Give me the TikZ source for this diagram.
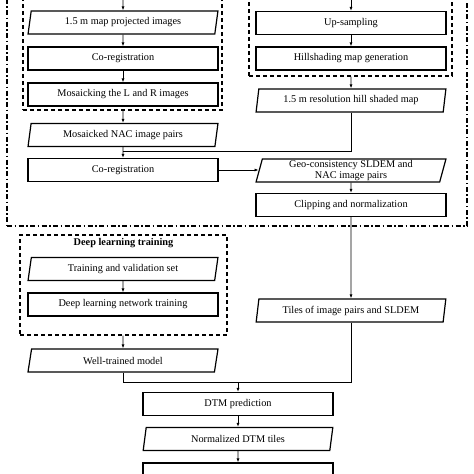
\documentclass[tikz,border=0pt]{standalone}
\usepackage{fontspec}
\setmainfont{Liberation Serif}
\usetikzlibrary{shapes.geometric,arrows.meta}
\begin{document}
\begin{tikzpicture}[x=1pt,y=-1pt,
  every node/.style={font=\fontsize{10.3}{11.2}\selectfont, inner sep=0pt},
  procbox/.style={draw, line width=1.2pt, rectangle, minimum width=190pt, minimum height=23pt},
  iobox/.style={draw, line width=1.2pt, trapezium, trapezium left angle=78, trapezium right angle=102,
    trapezium stretches=true, minimum width=190pt, minimum height=23pt, align=center},
  dashbox/.style={draw, line width=1.3pt, dash pattern=on 4pt off 3pt, rectangle},
  dashdotbox/.style={draw, line width=1.3pt, dash pattern=on 5pt off 2.5pt on 1.5pt off 2.5pt, rectangle},
  conn/.style={line width=0.8pt},
  arr/.style={conn, -{Latex[length=4pt,width=3pt]}}
]
\useasboundingbox (0,0) rectangle (474,474);
\clip (0,0) rectangle (474,474);
\fill[white] (0,0) rectangle (474,474);

% group boxes
\node[dashdotbox, minimum width=460pt, minimum height=246pt] (outer) at (237,103) {};
\node[dashbox, minimum width=199pt, minimum height=120pt] (lbox) at (122.5,50) {};
\node[dashbox, minimum width=203pt, minimum height=86pt] (rbox) at (350.5,33) {};
\node[dashbox, minimum width=207pt, minimum height=100pt] (dbox) at (123.5,285) {};
\node[font=\fontsize{10.3}{11.2}\selectfont\bfseries] (dtitle) at (123.5,243) {Deep learning training};

% left column
\node[iobox] (p1) at (123,22.5) {1.5 m map projected images};
\node[procbox] (c1) at (123,58.5) {Co-registration};
\node[procbox] (m1) at (123,94.5) {Mosaicking the L and R images};
\node[iobox] (p2) at (123,135) {Mosaicked NAC image pairs};
\node[procbox] (c2) at (123,170) {Co-registration};
\node[iobox] (p3) at (123,269) {Training and validation set};
\node[procbox] (d1) at (123,304.5) {Deep learning network training};
\node[iobox] (p4) at (123,360.5) {Well-trained model};

% right column
\node[procbox] (u1) at (351,23) {Up-sampling};
\node[procbox] (h1) at (351,58.5) {Hillshading map generation};
\node[iobox] (p5) at (351,100.5) {1.5 m resolution hill shaded map};
\node[iobox] (p6) at (351,170.5) {Geo-consistency SLDEM and\\NAC image pairs};
\node[procbox] (cl) at (351,205) {Clipping and normalization};
\node[iobox] (p7) at (351,310.5) {Tiles of image pairs and SLDEM};

% bottom column
\node[procbox] (dtm) at (238,404) {DTM prediction};
\node[iobox] (p8) at (238,439) {Normalized DTM tiles};
\node[procbox] (last) at (238,474.5) {};

% free ends and joins
\coordinate (in1) at (123,-8);
\coordinate (in2) at (351,-8);
\coordinate (j1) at (123,151);
\coordinate (j2) at (238,382);

% connectors
\draw[arr] (in1) -- (p1);
\draw[arr] (p1) -- (c1);
\draw[arr] (c1) -- (m1);
\draw[arr] (p2.north |- lbox.south) -- (p2);
\draw[arr] (p2) -- (c2);
\draw[arr] (in2) -- (u1);
\draw[arr] (u1) -- (h1);
\draw[arr] (p5.north |- rbox.south) -- (p5);
\draw[conn] (p5.south) |- (j1);
\draw[arr] (c2.east) -- (c2.east -| p6.west);
\draw[arr] (p6) -- (cl);
\draw[arr] (cl) -- (p7);
\draw[arr] (p3) -- (d1);
\draw[arr] (p4.north |- dbox.south) -- (p4);
\draw[conn] (p7.south) |- (j2);
\draw[conn] (p4.south) |- (j2);
\draw[arr] (j2) -- (dtm);
\draw[arr] (dtm) -- (p8);
\draw[arr] (p8) -- (last);
\end{tikzpicture}
\end{document}
